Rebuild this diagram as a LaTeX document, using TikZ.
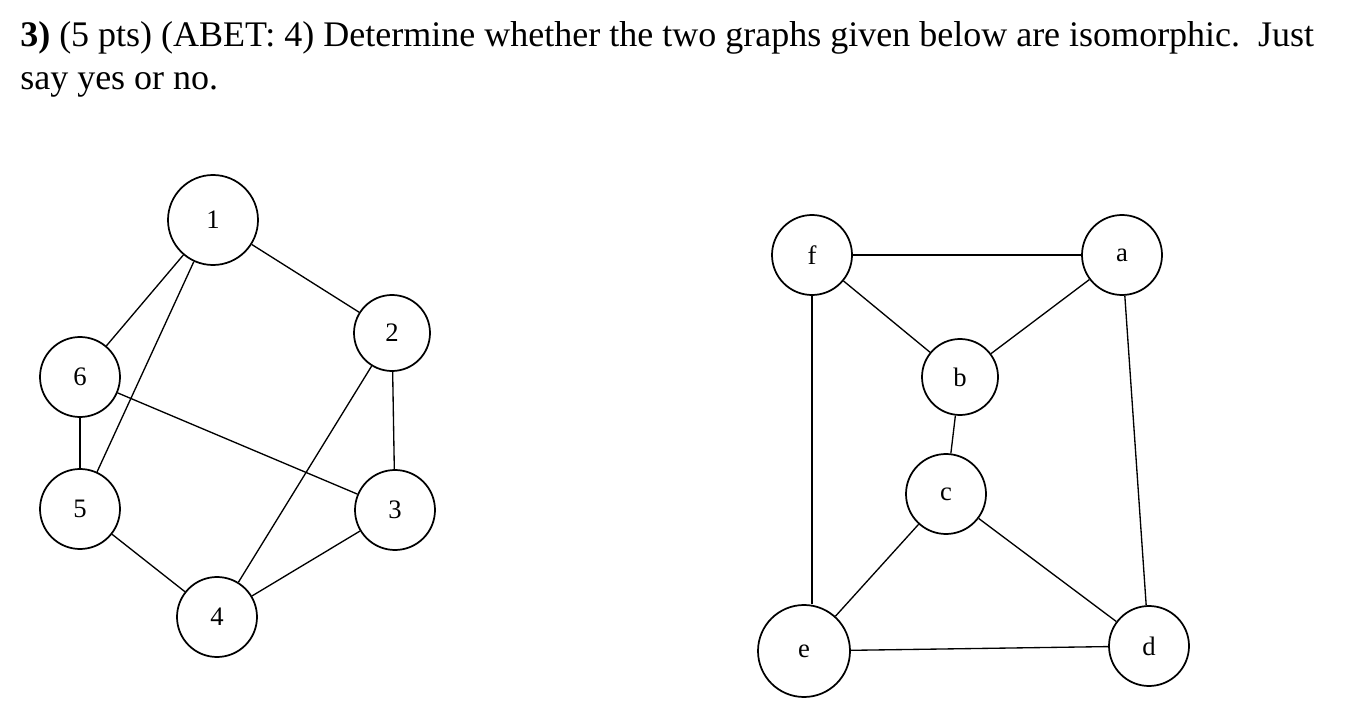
\documentclass[tikz,border=0pt]{standalone}
\usepackage{fontspec}
\setmainfont{Liberation Serif}
\begin{document}
\begin{tikzpicture}[x=0.75pt,y=-0.75pt,
  v/.style={circle,draw,line width=1.3pt,inner sep=0pt,font=\fontsize{20}{24}\selectfont},
  e/.style={line width=1pt}]
\useasboundingbox (0,0) rectangle (1367,705);
\node[anchor=base west,inner sep=0pt,font=\fontsize{27}{32}\selectfont] (t1) at (20,47) {\textbf{3)} (5 pts) (ABET: 4) Determine whether the two graphs given below are isomorphic.\ \ Just};
\node[anchor=base west,inner sep=0pt,font=\fontsize{27}{32}\selectfont] (t2) at (20,90) {say yes or no.};
\node[v,minimum size=67.5pt] (n1) at (213,220) {1};
\node[v,minimum size=57pt] (n2) at (392,333) {2};
\node[v,minimum size=60pt] (n6) at (80,377) {6};
\node[v,minimum size=60pt] (n5) at (80,509) {5};
\node[v,minimum size=60pt] (n3) at (395,510) {3};
\node[v,minimum size=60pt] (n4) at (217,617) {4};
\node[v,minimum size=60pt] (f) at (812,255) {f};
\node[v,minimum size=60pt] (a) at (1122,255) {a};
\node[v,minimum size=57pt] (b) at (960,377) {b};
\node[v,minimum size=60pt] (c) at (946,494) {c};
\node[v,minimum size=69pt] (ee) at (804,651) {e};
\node[v,minimum size=60pt] (d) at (1149,646) {d};
\draw[e] (n1) -- (n2);
\draw[e] (n1) -- (n6);
\draw[e] (n1) -- (n5);
\draw[e] (n2) -- (n4);
\draw[e] (n2) -- (n3);
\draw[e] (n6) -- (n3);
\draw[e] (n6) -- (n5);
\draw[e] (n5) -- (n4);
\draw[e] (n3) -- (n4);
\draw[e] (f) -- (a);
\draw[e] (f) -- (b);
\draw[e] (a) -- (b);
\draw[e] (f.south) -- (f.south |- ee.north);
\draw[e] (a) -- (d);
\draw[e] (b) -- (c);
\draw[e] (c) -- (ee);
\draw[e] (c) -- (d);
\draw[e] (ee) -- (d);
\end{tikzpicture}
\end{document}
